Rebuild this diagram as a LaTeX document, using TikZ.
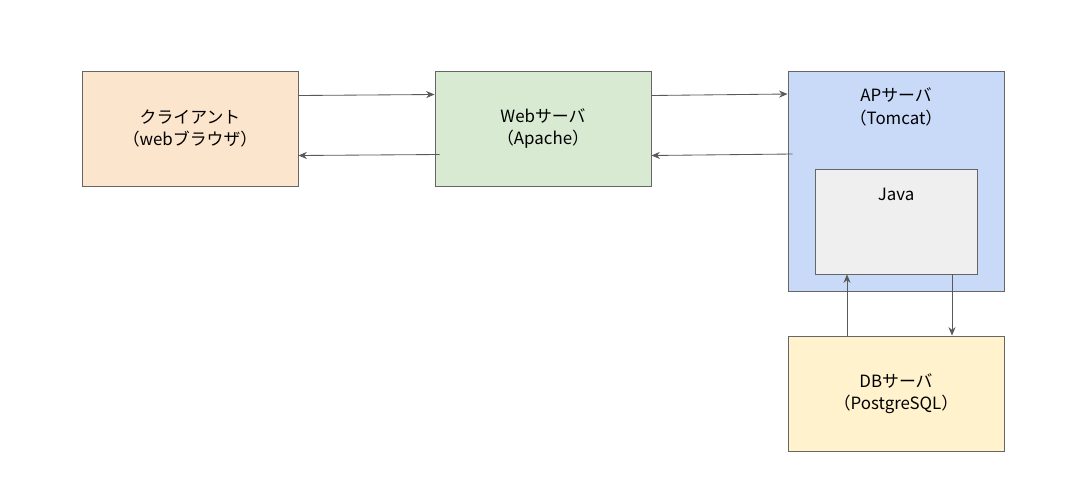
\documentclass[tikz,border=0pt]{standalone}
\usepackage{fontspec}
\setmainfont{Noto Sans CJK JP}
\usetikzlibrary{calc,arrows.meta}
\definecolor{edgegray}{HTML}{666666}
\definecolor{arrgray}{HTML}{595959}
\definecolor{clientfill}{HTML}{FCE5CD}
\definecolor{webfill}{HTML}{D9EAD3}
\definecolor{apfill}{HTML}{C9DAF8}
\definecolor{javafill}{HTML}{EFEFEF}
\definecolor{dbfill}{HTML}{FFF2CC}
\tikzset{
  box/.style={draw=edgegray, line width=0.6pt, align=center, inner sep=0pt,
    font=\fontsize{12}{16}\selectfont},
  arr/.style={draw=arrgray, line width=0.6pt, -{Stealth[length=6pt,width=5pt]}}
}
\begin{document}
\begin{tikzpicture}[x=0.025cm,y=-0.025cm]
\useasboundingbox (0,0) rectangle (1084,482);
% boxes
\node [box, fill=clientfill, minimum width=5.4cm, minimum height=2.875cm] (client) at (190,128.5)
  {クライアント\\（webブラウザ）};
\node [box, fill=webfill, minimum width=5.4cm, minimum height=2.875cm] (web) at (543,128.5)
  {Webサーバ\\（Apache）};
\node [box, fill=apfill, minimum width=5.4cm, minimum height=5.5cm] (ap) at (896,181) {};
\node [font=\fontsize{12}{16}\selectfont, align=center] (aplabel) at (896,107) {APサーバ\\（Tomcat）};
\node [box, fill=javafill, minimum width=4.05cm, minimum height=2.625cm] (java) at (896,221.5) {};
\node [font=\fontsize{12}{16}\selectfont] (javalabel) at (896,194) {Java};
\node [box, fill=dbfill, minimum width=5.4cm, minimum height=2.875cm] (db) at (896,393.5)
  {DBサーバ\\（PostgreSQL）};

% connectors
\draw [arr] ($(client.east)+(0,-33)$) -- ($(web.west)+(0,-34)$);
\draw [arr] ($(web.west)+(5,26)$) -- ($(client.east)+(0,27)$);
\draw [arr] ($(web.east)+(0,-33)$) -- ($(ap.west)+(0,-87)$);
\draw [arr] ($(ap.west)+(5,-27)$) -- ($(web.east)+(0,27)$);
\draw [arr] ($(db.north)+(-49,0)$) -- ($(java.south)+(-49,0)$);
\draw [arr] ($(java.south)+(56,0)$) -- ($(db.north)+(56,0)$);
\end{tikzpicture}
\end{document}
